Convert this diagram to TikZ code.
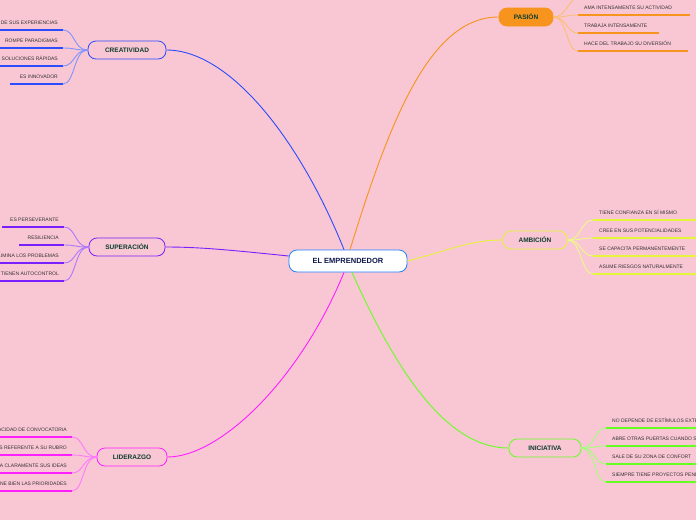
\documentclass[tikz,border=0pt]{standalone}
\usepackage{fontspec}
\setmainfont{Liberation Sans}
\begin{document}
\begin{tikzpicture}[x=1pt,y=1pt,
 main/.style={rounded corners=8pt,draw,line width=0.8pt,minimum height=18pt,font=\fontsize{6.5}{7}\selectfont\bfseries,text=textg,inner xsep=8pt},
 leaf/.style={font=\fontsize{5}{6}\selectfont,text=black!80,inner sep=1pt},
 ul/.style={line width=1.2pt},
 cn/.style={line width=0.9pt}]
\definecolor{bg}{HTML}{F9C6D3}
\definecolor{textg}{HTML}{0B3D2E}
\definecolor{myb}{HTML}{2B4CFF}
\definecolor{myp}{HTML}{7A1FFF}
\definecolor{mym}{HTML}{FF1FFF}
\definecolor{myo}{HTML}{F7941D}
\definecolor{myy}{HTML}{E5F53A}
\definecolor{myg}{HTML}{66FF22}
\fill[bg] (0,0) rectangle (696,-520);
\useasboundingbox (0,0) rectangle (696,-520);
% centre and main nodes
\node[main,fill=white,draw=myb!70!cyan,minimum width=118pt,minimum height=22pt,font=\fontsize{7.5}{8}\selectfont\bfseries,text=myb!30!black] (c) at (348,-261) {EL EMPRENDEDOR};
\node[main,fill=bg,draw=myb,minimum width=78pt] (cre) at (127,-50) {CREATIVIDAD};
\node[main,fill=bg,draw=myp,minimum width=76pt] (sup) at (127,-247) {SUPERACIÓN};
\node[main,fill=bg,draw=mym,minimum width=70pt] (lid) at (132,-457) {LIDERAZGO};
\node[main,fill=myo,draw=myo,minimum width=54pt] (pas) at (526,-17) {PASIÓN};
\node[main,fill=bg,draw=myy,minimum width=64pt] (amb) at (535,-240) {AMBICIÓN};
\node[main,fill=bg,draw=myg,minimum width=72pt] (ini) at (545,-448) {INICIATIVA};
% centre connectors
\draw[cn,myb] ([xshift=-4pt]c.north) .. controls (300,-140) and (230,-50) .. (cre.east);
\draw[cn,myp] ([yshift=5pt]c.west) .. controls (230,-250) and (200,-247) .. (sup.east);
\draw[cn,mym] ([xshift=-4pt]c.south) .. controls (300,-380) and (220,-457) .. (lid.east);
\draw[cn,myo] ([xshift=2pt]c.north) .. controls (390,-120) and (430,-17) .. (pas.west);
\draw[cn,myy] (c.east) .. controls (450,-250) and (470,-240) .. (amb.west);
\draw[cn,myg] ([xshift=4pt]c.south) .. controls (400,-380) and (450,-448) .. (ini.west);
% left leaves
\foreach \n/\t/\y/\s/\e/\m/\col in {
 c1/APRENDE DE SUS EXPERIENCIAS/30/0/63/cre/myb,
 c2/ROMPE PARADIGMAS/48/0/63/cre/myb,
 c3/DA SOLUCIONES RÁPIDAS/66/0/63/cre/myb,
 c4/ES INNOVADOR/84/10/63/cre/myb,
 s1/ES PERSEVERANTE/227/2/64/sup/myp,
 s2/RESILIENCIA/245/19/64/sup/myp,
 s3/ELIMINA LOS PROBLEMAS/263/0/64/sup/myp,
 s4/TIENEN AUTOCONTROL/281/0/64/sup/myp,
 l1/TIENE CAPACIDAD DE CONVOCATORIA/437/0/72/lid/mym,
 l2/ES REFERENTE A SU RUBRO/455/0/72/lid/mym,
 l3/EXPRESA CLARAMENTE SUS IDEAS/473/0/72/lid/mym,
 l4/DEFINE BIEN LAS PRIORIDADES/491/0/72/lid/mym}{
 \coordinate (\n e) at (\e,-\y);
 \node[leaf,anchor=south east] (\n) at (\e-4,-\y+4.5) {\t};
 \draw[ul,\col] (\s,-\y) -- (\n e);
 \draw[cn,\col!60] (\m.west) .. controls ([xshift=-14pt]\m.west) and ([xshift=12pt]\n e) .. (\n e);
}
% right leaves
\foreach \n/\t/\y/\s/\e/\m/\col in {
 p0/X/-3/580/690/pas/myo,
 p1/AMA INTENSAMENTE SU ACTIVIDAD/15/578/690/pas/myo,
 p2/TRABAJA INTENSAMENTE/33/578/659/pas/myo,
 p3/HACE DEL TRABAJO SU DIVERSIÓN/51/578/688/pas/myo,
 a1/TIENE CONFIANZA EN SÍ MISMO/220/593/696/amb/myy,
 a2/CREE EN SUS POTENCIALIDADES/238/593/696/amb/myy,
 a3/SE CAPACITA PERMANENTEMENTE/256/593/696/amb/myy,
 a4/ASUME RIESGOS NATURALMENTE/274/593/696/amb/myy,
 i1/NO DEPENDE DE ESTÍMULOS EXTERNOS/428/606/696/ini/myg,
 i2/ABRE OTRAS PUERTAS CUANDO SE CIERRAN/446/606/696/ini/myg,
 i3/SALE DE SU ZONA DE CONFORT/464/606/696/ini/myg,
 i4/SIEMPRE TIENE PROYECTOS PENDIENTES/482/606/696/ini/myg}{
 \coordinate (\n s) at (\s,-\y);
 \ifnum\y>0 \node[leaf,anchor=south west] (\n) at (\s+5,-\y+4.5) {\t};\fi
 \draw[ul,\col] (\n s) -- (\e,-\y);
 \draw[cn,\col!60] (\m.east) .. controls ([xshift=14pt]\m.east) and ([xshift=-12pt]\n s) .. (\n s);
}
\end{tikzpicture}
\end{document}
